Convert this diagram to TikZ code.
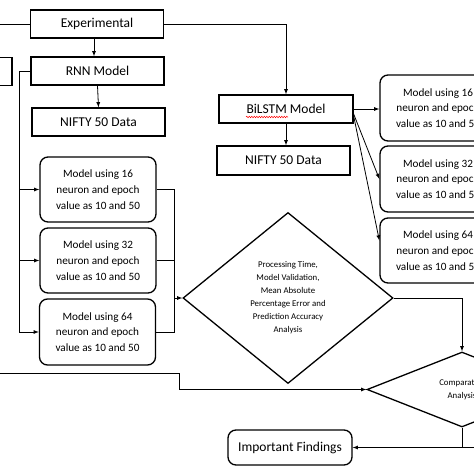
\documentclass[tikz,border=0pt]{standalone}
\usepackage{fontspec}
\setmainfont{Carlito}
\usetikzlibrary{shapes.geometric,decorations.pathmorphing}

\tikzset{
  box/.style={draw, line width=1.3pt, minimum width=133pt, minimum height=28pt,
    inner sep=0pt, font=\fontsize{13.5}{15}\selectfont},
  modelbox/.style={draw, line width=1.3pt, rounded corners=8pt, minimum width=116pt,
    minimum height=65pt, inner sep=0pt, align=center, font=\fontsize{11.2}{15.7}\selectfont},
  decision/.style={draw, line width=1.3pt, diamond, aspect=1.2, inner sep=0pt, align=center},
  link/.style={line width=0.8pt, -latex},
  plain/.style={line width=0.8pt},
}

\begin{document}
\begin{tikzpicture}[x=1pt,y=-1pt]
  \useasboundingbox (0,0) rectangle (474,474);
  \clip (0,0) rectangle (474,474);

  % left column
  \node[box] (exp) at (97,24) {Experimental};
  \node[box, minimum width=112pt] (prev) at (-44,71.5) {};
  \node[box] (rnn) at (97.5,71) {RNN Model};
  \node[box] (niftyL) at (98.5,122) {NIFTY 50 Data};
  \node[modelbox] (m16) at (98,189.5) {Model using 16\\neuron and epoch\\value as 10 and 50};
  \node[modelbox] (m32) at (98,260.5) {Model using 32\\neuron and epoch\\value as 10 and 50};
  \node[modelbox, minimum height=66pt] (m64) at (97.5,332) {Model using 64\\neuron and epoch\\value as 10 and 50};

  % right column
  \node[box, minimum width=134pt] (bil) at (286,109) {BiLSTM Model};
  \node[box, minimum height=29pt] (niftyR) at (283.5,160.5) {NIFTY 50 Data};
  \node[modelbox, minimum height=66pt] (rA) at (438,108) {Model using 16\\neuron and epoch\\value as 10 and 50};
  \node[modelbox, minimum height=66pt] (rB) at (438,179) {Model using 32\\neuron and epoch\\value as 10 and 50};
  \node[modelbox] (rC) at (438,250.5) {Model using 64\\neuron and epoch\\value as 10 and 50};
  \draw[red, line width=0.5pt, decorate, decoration={snake, amplitude=0.7pt, segment length=2.5pt}]
    (246,117) -- (288,117);

  % decisions
  \node[decision, minimum width=210pt, minimum height=171pt,
    font=\fontsize{8.8}{13}\selectfont] (proc) at (288,298)
    {Processing Time,\\Model Validation,\\Mean Absolute\\Percentage Error and\\Prediction Accuracy\\Analysis};
  \node[decision, aspect=2.5, minimum width=190pt, minimum height=75pt,
    font=\fontsize{8.8}{13}\selectfont] (comp) at (462,389.5) {Comparative\\Analysis};
  \node[modelbox, minimum width=124pt, minimum height=35pt, font=\fontsize{13.5}{15}\selectfont]
    (find) at (290,447.5) {Important Findings};

  % free ends
  \coordinate (lft) at (-10,24);
  \coordinate (rl) at (19,71);
  \coordinate (rr) at (174,298);
  \coordinate (lin) at (-10,373);
  \coordinate (bend) at (179,373);
  \coordinate (rin) at (490,447.5);

  % connectors
  \draw[plain] (exp.west) -- (lft);
  \draw[link] (exp.east) -| (bil.north);
  \draw[link] (exp.south -| 94,0) -- (rnn.north -| 94,0);
  \draw[link] (rnn.south) -- (niftyL.north);
  \draw[link] (bil.south) -- (niftyR.north -| bil.south);

  \draw[plain] (rnn.west) -- (rl);
  \draw[link] (rl) |- (m64.west);
  \draw[link] (rl |- m16.west) -- (m16.west);
  \draw[link] (rl |- m32.west) -- (m32.west);

  \draw[plain] (m16.east) -| (rr);
  \draw[plain] (m64.east) -| (rr);
  \draw[plain] (m32.east) -- (rr |- m32.east);
  \draw[link] (rr) -- (proc.west);

  \draw[link] (bil.east) -- (bil.east -| rA.west);
  \draw[link] ([yshift=-5pt]bil.east) -- (rB.west);
  \draw[link] ([yshift=-7pt]bil.east) -- ([yshift=10pt]rC.west);

  \draw[link] (proc.east) -| (comp.north);
  \draw[plain] (lin) -- (bend);
  \draw[link] (bend) |- (comp.west);
  \draw[plain] (comp.south) -- (comp.south |- find.east);
  \draw[link] (rin) -- (find.east);
\end{tikzpicture}
\end{document}
